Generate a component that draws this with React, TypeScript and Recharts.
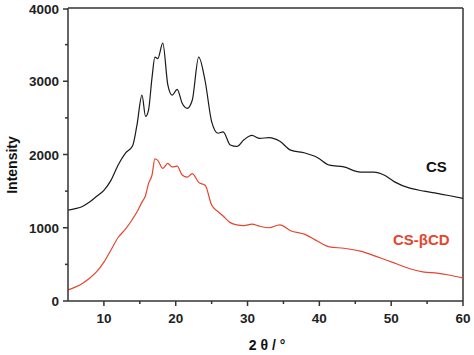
import { LineChart, Line, XAxis, YAxis, ReferenceLine } from 'recharts';

const twoTheta = [5, 6, 7, 8, 9, 10, 11, 12, 13, 14, 14.6, 15.3, 15.8, 16.2, 16.7, 17.1, 17.5, 18.2, 18.9, 19.5, 20.2, 20.9, 21.6, 22.3, 23.2, 24.1, 25, 25.9, 26.6, 27.6, 28.5, 29.5, 30.6, 31.7, 33, 34.5, 36, 38, 39.7, 41.4, 43.4, 45.7, 47.6, 49, 50.4, 52.6, 54.6, 56.4, 58, 60];

const csValues = [1240, 1260, 1290, 1350, 1430, 1510, 1650, 1860, 2020, 2120, 2400, 2810, 2520, 2600, 3050, 3330, 3310, 3520, 2950, 2810, 2890, 2700, 2630, 2740, 3330, 3000, 2450, 2290, 2310, 2130, 2110, 2200, 2260, 2220, 2230, 2180, 2060, 2020, 1960, 1855, 1830, 1760, 1760, 1720, 1630, 1540, 1500, 1470, 1440, 1400];

const csBcdValues = [150, 190, 240, 310, 400, 530, 700, 870, 980, 1120, 1215, 1350, 1440, 1600, 1720, 1940, 1920, 1810, 1880, 1830, 1840, 1720, 1690, 1740, 1620, 1580, 1310, 1220, 1160, 1070, 1040, 1030, 1050, 1020, 1000, 1040, 960, 910, 820, 740, 720, 680, 620, 570, 520, 440, 395, 380, 355, 315];

const xTicks = [10, 15, 20, 25, 30, 35, 40, 45, 50, 55, 60];
const yTicks = [0, 500, 1000, 1500, 2000, 2500, 3000, 3500, 4000];

const data = twoTheta.map((t, i) => ({ t, cs: csValues[i], csBcd: csBcdValues[i] }));

const axisColor = '#333';
const font = 'Arial, "Liberation Sans", sans-serif';

function XTick({ x, y, payload }: any) {
  const major = payload.value % 10 === 0;
  return (
    <g>
      <line x1={x} x2={x} y1={y} y2={y + (major ? 5 : 3)} stroke={axisColor} strokeWidth={1.5} />
      {major && (
        <text x={x} y={y + 22} textAnchor="middle" fontFamily={font} fontWeight="bold" fontSize={13.5} fill="#222">
          {payload.value}
        </text>
      )}
    </g>
  );
}

function YTick({ x, y, payload }: any) {
  const major = payload.value % 1000 === 0;
  return (
    <g>
      <line x1={x} x2={x - (major ? 5 : 3)} y1={y} y2={y} stroke={axisColor} strokeWidth={1.5} />
      {major && (
        <text x={x - 9} y={y + 5} textAnchor="end" fontFamily={font} fontWeight="bold" fontSize={13.5} fill="#222">
          {payload.value}
        </text>
      )}
    </g>
  );
}

export default function App() {
  return (
    <div style={{ position: 'absolute', left: 0, top: 0, width: 474, height: 355, background: '#fff' }}>
      <LineChart width={474} height={355} data={data} margin={{ top: 8, right: 11, left: 8, bottom: 24 }}>
        <XAxis
          dataKey="t"
          type="number"
          domain={[5, 60]}
          ticks={xTicks}
          tick={<XTick />}
          tickLine={false}
          tickSize={0}
          tickMargin={0}
          height={30}
          stroke={axisColor}
          strokeWidth={1.5}
          allowDataOverflow
        />
        <YAxis
          type="number"
          domain={[0, 4000]}
          ticks={yTicks}
          tick={<YTick />}
          tickLine={false}
          tickSize={0}
          tickMargin={0}
          width={60}
          stroke={axisColor}
          strokeWidth={1.5}
          allowDataOverflow
        />
        <ReferenceLine x={60} stroke={axisColor} strokeWidth={1.5} />
        <ReferenceLine y={4000} stroke={axisColor} strokeWidth={1.5} />
        <Line type="monotone" dataKey="cs" stroke="#1a1a1a" strokeWidth={1.2} dot={false} isAnimationActive={false} />
        <Line type="monotone" dataKey="csBcd" stroke="#e5452e" strokeWidth={1.2} dot={false} isAnimationActive={false} />
      </LineChart>
      <div style={{ position: 'absolute', left: 426, top: 158, fontFamily: font, fontWeight: 'bold', fontSize: 15, color: '#111' }}>CS</div>
      <div style={{ position: 'absolute', left: 393, top: 231, fontFamily: font, fontWeight: 'bold', fontSize: 15, color: '#e5452e' }}>CS-βCD</div>
      <div
        style={{
          position: 'absolute',
          left: 12,
          top: 165,
          transform: 'translate(-50%, -50%) rotate(-90deg)',
          fontFamily: font,
          fontWeight: 'bold',
          fontSize: 14,
          color: '#111',
          whiteSpace: 'nowrap',
        }}
      >
        Intensity
      </div>
      <div
        style={{
          position: 'absolute',
          left: 267,
          top: 345,
          transform: 'translate(-50%, -50%)',
          fontFamily: font,
          fontWeight: 'bold',
          fontSize: 14,
          color: '#111',
          whiteSpace: 'nowrap',
        }}
      >
        2 θ / °
      </div>
    </div>
  );
}
